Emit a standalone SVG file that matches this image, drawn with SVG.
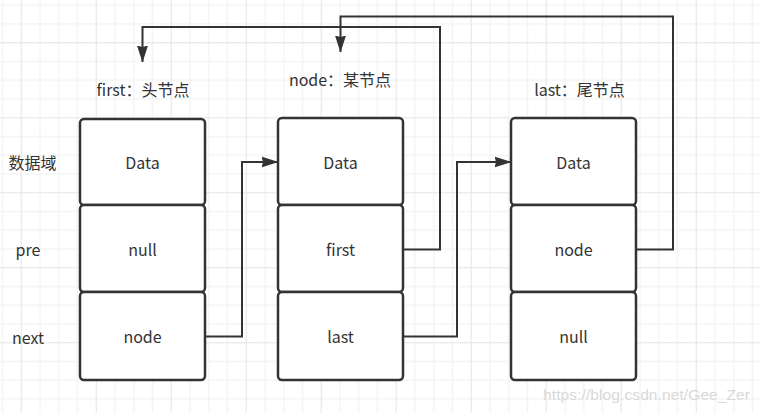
<svg xmlns="http://www.w3.org/2000/svg" width="760" height="413" viewBox="0 0 760 413">
<style>
.cell{fill:#ffffff;stroke:#333333;stroke-width:2.5}
.t{font-family:"Noto Sans CJK SC","Noto Sans",sans-serif;font-size:16px;fill:#333333;text-anchor:middle;dominant-baseline:central}
.wire{fill:none;stroke:#333333;stroke-width:2}
.wm{font-family:"Liberation Sans",Arial,sans-serif;font-size:15.5px;fill:#d9d9d9}
</style>
<defs>
<pattern id="grid" patternUnits="userSpaceOnUse" x="20.7" y="42.3" width="75" height="75">
<rect x="18.75" y="0" width="1" height="75" fill="#f0f0f0"/>
<rect x="37.5" y="0" width="1" height="75" fill="#f0f0f0"/>
<rect x="56.25" y="0" width="1" height="75" fill="#f0f0f0"/>
<rect x="0" y="18.75" width="75" height="1" fill="#f0f0f0"/>
<rect x="0" y="37.5" width="75" height="1" fill="#f0f0f0"/>
<rect x="0" y="56.25" width="75" height="1" fill="#f0f0f0"/>
<rect x="0" y="0" width="1" height="75" fill="#e4e4e4"/>
<rect x="0" y="0" width="75" height="1" fill="#e4e4e4"/>
</pattern>
<marker id="arr" markerUnits="userSpaceOnUse" markerWidth="18" markerHeight="12" refX="16.5" refY="6" orient="auto">
<path d="M0,0.5 L17,6 L0,11.5 L1.5,6 Z" fill="#333333"/>
</marker>
</defs>
<rect width="760" height="413" fill="#ffffff"/>
<rect width="760" height="413" fill="url(#grid)"/>

<g id="row-labels">
<text class="t" x="32.5" y="162">数据域</text>
<text class="t" x="28" y="249">pre</text>
<text class="t" x="28" y="337">next</text>
</g>

<g id="node-first">
<text class="t" x="143" y="89">first：头节点</text>
<rect class="cell" x="80" y="119" width="125" height="86" rx="4"/>
<rect class="cell" x="80" y="205" width="125" height="87" rx="4"/>
<rect class="cell" x="80" y="292" width="125" height="88" rx="4"/>
<text class="t" x="142.5" y="162">Data</text>
<text class="t" x="142.5" y="249">null</text>
<text class="t" x="142.5" y="336">node</text>
</g>

<g id="node-node">
<text class="t" x="340" y="79">node：某节点</text>
<rect class="cell" x="278" y="118" width="125" height="87" rx="4"/>
<rect class="cell" x="278" y="205" width="125" height="87" rx="4"/>
<rect class="cell" x="278" y="292" width="125" height="88" rx="4"/>
<text class="t" x="340.5" y="162">Data</text>
<text class="t" x="340.5" y="249">first</text>
<text class="t" x="340.5" y="336">last</text>
</g>

<g id="node-last">
<text class="t" x="579.5" y="89">last：尾节点</text>
<rect class="cell" x="511" y="118" width="125" height="87" rx="4"/>
<rect class="cell" x="511" y="205" width="125" height="87" rx="4"/>
<rect class="cell" x="511" y="292" width="125" height="88" rx="4"/>
<text class="t" x="573.5" y="162">Data</text>
<text class="t" x="573.5" y="249">node</text>
<text class="t" x="573.5" y="336">null</text>
</g>

<g id="connectors">
<path class="wire" d="M205,336.5 H242 V162 H278" marker-end="url(#arr)"/>
<path class="wire" d="M403,336.5 H457 V162 H511" marker-end="url(#arr)"/>
<path class="wire" d="M403,249.5 H440 V27 H142.5 V62" marker-end="url(#arr)"/>
<path class="wire" d="M636,249.5 H673 V16.5 H340.5 V52" marker-end="url(#arr)"/>
</g>

<text class="wm" x="543" y="400" textLength="207">https://blog.csdn.net/Gee_Zer</text>
</svg>
